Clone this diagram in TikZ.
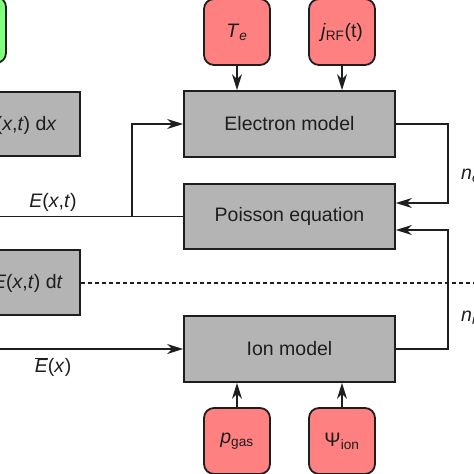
\documentclass[tikz,border=0pt]{standalone}
\usepackage{fontspec}
\setmainfont{Liberation Sans}
\usetikzlibrary{arrows.meta}
\definecolor{boxgray}{RGB}{180,180,180}
\definecolor{boxred}{RGB}{255,128,128}
\definecolor{boxgreen}{RGB}{128,255,128}
\definecolor{ink}{RGB}{30,30,30}
\newcommand\subtx[1]{\textsubscript{#1}}
\begin{document}
\begin{tikzpicture}[x=1pt,y=-1pt,
  every node/.style={font=\fontsize{19.5}{23}\selectfont, text=ink},
  graybox/.style={draw=ink, line width=1.8pt, fill=boxgray, rectangle, inner sep=0pt},
  redbox/.style={draw=ink, line width=1.8pt, fill=boxred, rounded corners=10pt, inner sep=0pt, minimum width=66pt, minimum height=66pt},
  greenbox/.style={draw=ink, line width=1.8pt, fill=boxgreen, rounded corners=10pt, inner sep=0pt, minimum width=66pt, minimum height=66pt},
  conn/.style={draw=ink, line width=1.5pt},
  arr/.style={conn, -{Stealth[length=16pt, width=10pt, inset=5pt]}},
  lbl/.style={inner sep=0pt}
]
\useasboundingbox (0,0) rectangle (474,474);
\clip (0,0) rectangle (474,474);

% main blocks
\node[graybox, minimum width=211pt, minimum height=66pt] (el) at (289.5,124) {Electron model};
\node[graybox, minimum width=211pt, minimum height=65pt] (po) at (289.5,216.5) {Poisson equation};
\node[graybox, minimum width=211pt, minimum height=66pt] (ion) at (289.5,349) {Ion model};

% left blocks (cut off by the frame)
\node[graybox, minimum width=180pt, minimum height=64pt] (intx) at (-10,124) {};
\node[lbl, anchor=east] (intxt) at (57,125) {\textit{E}(\textit{x},\textit{t}) d\textit{x}};
\node[graybox, minimum width=180pt, minimum height=65pt] (intt) at (-10,282.5) {};
\node[lbl, anchor=east] (inttt) at (63,283.5) {\textit{E}(\textit{x},\textit{t}) d\textit{t}};

% parameter boxes
\node[greenbox] (gr) at (-27,30) {};
\node[redbox] (te) at (237,32) {\textit{T}\subtx{\textit{e}}};
\node[redbox] (jrf) at (342,32) {\textit{j}\subtx{RF}(t)};
\node[redbox] (pg) at (237,441) {\textit{p}\subtx{gas}};
\node[redbox] (psi) at (342,441) {Ψ\subtx{ion}};

% inputs
\draw[arr] (te.south) -- (te.south |- el.north);
\draw[arr] (jrf.south) -- (jrf.south |- el.north);
\draw[arr] (pg.north) -- (pg.north |- ion.south);
\draw[arr] (psi.north) -- (psi.north |- ion.south);

% feedback loops
\coordinate (fb) at (448,0);
\draw[arr] (el.east) -- (el.east -| fb) |- ([yshift=13.5pt]po.east);
\draw[arr] (ion.east) -- (ion.east -| fb) |- ([yshift=-13.5pt]po.east);
\node[lbl, anchor=west] (ne) at (461,176) {\textit{n}\subtx{\textit{e}}};
\node[lbl, anchor=west] (ni) at (461,318) {\textit{n}\subtx{\textit{i}}};

% field lines
\coordinate (eleft) at (-5,216.5);
\coordinate (br) at (132,216.5);
\draw[conn] (po.west) -- (eleft);
\draw[arr] (br) |- (el.west);
\node[lbl] (elab) at (53,202) {\textit{E}(\textit{x},\textit{t})};

\coordinate (ebleft) at (-5,349);
\draw[arr] (ebleft) -- (ion.west);
\node[lbl] (eblab) at (53,367) {$\overline{\hbox{\textit{E}}}$(\textit{x})};

% separator
\coordinate (dend) at (480,283);
\draw[conn, line width=1.3pt, dash pattern=on 4.5pt off 2.5pt] (intt.east |- dend) -- (dend);
\end{tikzpicture}
\end{document}
